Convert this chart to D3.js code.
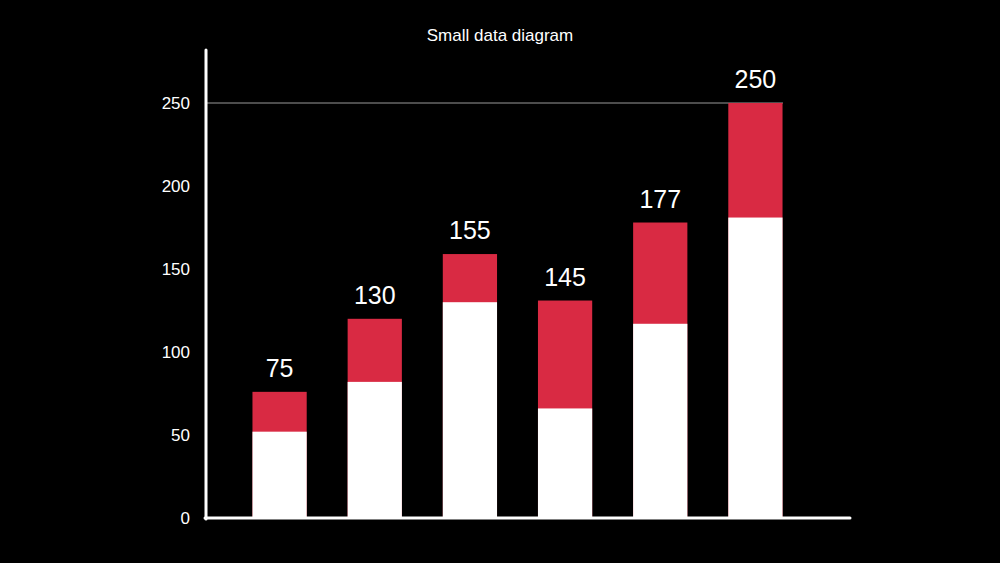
<!DOCTYPE html>
<html>
<head>
<meta charset="utf-8">
<script src="https://cdn.jsdelivr.net/npm/d3@7"></script>
<style>
  body { margin: 0; background: #000; }
  text { font-family: "Liberation Sans", Arial, sans-serif; fill: #fff; }
</style>
</head>
<body>
<div id="chart"></div>
<script>
// values
var categories = ["A", "B", "C", "D", "E", "F"];
var whiteValues = [52, 82, 130, 66, 117, 181];
var totalValues = [76, 120, 159, 131, 178, 250];
var barLabels = ["75", "130", "155", "145", "177", "250"];
var yTicks = [0, 50, 100, 150, 200, 250];

var W = 1000, H = 563;
var svg = d3.select("#chart").append("svg")
    .attr("width", W).attr("height", H)
    .style("background", "#000");

var x = d3.scaleBand()
    .domain(categories)
    .range([232, 803])
    .paddingInner(0.43)
    .paddingOuter(0.215);

var y = d3.scaleLinear()
    .domain([0, 250])
    .range([518, 103]);

// grid line at top
svg.append("line")
    .attr("x1", 206).attr("x2", 783)
    .attr("y1", y(250)).attr("y2", y(250))
    .attr("stroke", "#999").attr("stroke-width", 1);

// red part (full height) then white part on top of it
svg.append("g").selectAll("rect")
    .data(categories)
    .enter().append("rect")
      .attr("x", function (d) { return x(d); })
      .attr("width", x.bandwidth())
      .attr("y", function (d, i) { return y(totalValues[i]); })
      .attr("height", function (d, i) { return y(0) - y(totalValues[i]); })
      .attr("fill", "#d92a43");

svg.append("g").selectAll("rect")
    .data(categories)
    .enter().append("rect")
      .attr("x", function (d) { return x(d); })
      .attr("width", x.bandwidth())
      .attr("y", function (d, i) { return y(whiteValues[i]); })
      .attr("height", function (d, i) { return y(0) - y(whiteValues[i]); })
      .attr("fill", "#fff");

svg.append("g").selectAll("text")
    .data(categories)
    .enter().append("text")
      .attr("x", function (d) { return x(d) + x.bandwidth() / 2; })
      .attr("y", function (d, i) { return y(totalValues[i]) - 15; })
      .attr("text-anchor", "middle")
      .attr("font-size", 25)
      .text(function (d, i) { return barLabels[i]; });

// y tick labels
svg.append("g").selectAll("text")
    .data(yTicks)
    .enter().append("text")
      .attr("x", 190)
      .attr("y", function (d) { return y(d); })
      .attr("dy", "0.35em")
      .attr("text-anchor", "end")
      .attr("font-size", 17)
      .text(function (d) { return d; });

// axes
svg.append("line")
    .attr("x1", 206).attr("x2", 206)
    .attr("y1", 50).attr("y2", 519)
    .attr("stroke", "#fff").attr("stroke-width", 3).attr("stroke-linecap", "round");
svg.append("line")
    .attr("x1", 205).attr("x2", 850)
    .attr("y1", 518).attr("y2", 518)
    .attr("stroke", "#fff").attr("stroke-width", 3).attr("stroke-linecap", "round");

svg.append("text")
    .attr("x", 500).attr("y", 41)
    .attr("text-anchor", "middle")
    .attr("font-size", 17)
    .text("Small data diagram");
</script>
</body>
</html>
